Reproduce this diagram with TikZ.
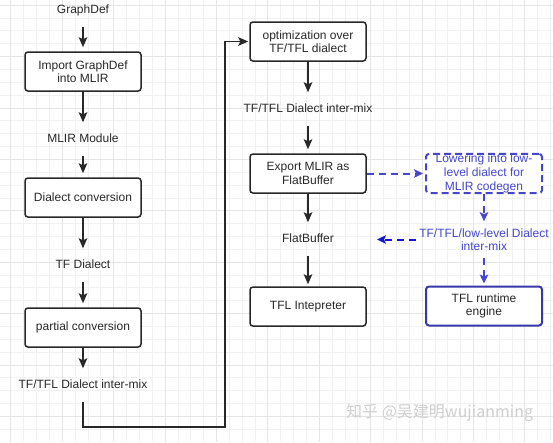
\documentclass[tikz,border=0pt]{standalone}
\usepackage{fontspec}
\setmainfont{Liberation Sans}
\newfontfamily\cjkfont{Noto Sans CJK SC}
\usepackage{xcolor}
\usepackage{tikz}
\usetikzlibrary{arrows.meta,positioning,calc}

\definecolor{inkgray}{RGB}{40,40,40}
\definecolor{lowblue}{RGB}{70,70,205}
\definecolor{deepblue}{RGB}{20,20,210}
\definecolor{engblue}{RGB}{55,55,170}
\definecolor{gridminor}{RGB}{241,241,241}
\definecolor{gridmajor}{RGB}{229,229,229}

\begin{document}
\begin{tikzpicture}[x=1pt, y=-1pt,
    every node/.style={font=\fontsize{12}{13.5}\selectfont, text=inkgray},
    box/.style={draw=inkgray, line width=1.5pt, rounded corners=3pt, minimum width=116pt, minimum height=39pt, inner sep=0pt, align=center, fill=white},
    lbl/.style={inner xsep=3pt, inner ysep=11pt, text height=8.5pt, text depth=2.5pt},
    arr/.style={draw=inkgray, line width=1.8pt, -{Stealth[length=10pt,width=8.5pt,inset=2pt]}},
    dasharr/.style={line width=2pt, dash pattern=on 7pt off 5pt, -{Stealth[length=9pt,width=8.5pt,inset=2pt]}}]
    \useasboundingbox (0,0) rectangle (553,442);
    \fill[white] (0,0) rectangle (553,442);

    % Background grid
    \foreach \i in {0,...,42}
        \draw[gridminor, line width=0.5pt] ({10.7+12.85*\i},0) -- ({10.7+12.85*\i},442);
    \foreach \i in {0,...,33}
        \draw[gridminor, line width=0.5pt] (0,{5+12.85*\i}) -- (553,{5+12.85*\i});
    \foreach \i in {0,4,...,40}
        \draw[gridmajor, line width=0.6pt] ({10.7+12.85*\i},0) -- ({10.7+12.85*\i},442);
    \foreach \i in {0,4,...,32}
        \draw[gridmajor, line width=0.6pt] (0,{5+12.85*\i}) -- (553,{5+12.85*\i});

    % Left column
    \node[lbl] (gd) at (83,10) {GraphDef};
    \node[box] (imp) at (83,71.5) {Import GraphDef\\into MLIR};
    \node[lbl] (mod) at (83,139) {MLIR Module};
    \node[box] (conv) at (83,197.5) {Dialect conversion};
    \node[lbl] (tfd) at (83,265) {TF Dialect};
    \node[box] (part) at (83,327.5) {partial conversion};
    \node[lbl] (mix1) at (83,385) {TF/TFL Dialect inter-mix};

    \draw[arr, shorten >=4pt] (gd) -- (imp);
    \draw[arr] (imp) -- (mod);
    \draw[arr, shorten >=4pt] (mod) -- (conv);
    \draw[arr] (conv) -- (tfd);
    \draw[arr, shorten >=4pt] (tfd) -- (part);
    \draw[arr] (part) -- (mix1);

    % Middle column
    \node[box] (opt) at (308,41.5) {optimization over\\TF/TFL dialect};
    \node[lbl] (mix2) at (308,109) {TF/TFL Dialect inter-mix};
    \node[box] (exp) at (308,173.5) {Export MLIR as\\FlatBuffer};
    \node[lbl] (fb) at (308,239) {FlatBuffer};
    \node[box] (interp) at (308,306.5) {TFL Intepreter};

    \draw[arr] (opt) -- (mix2);
    \draw[arr, shorten >=4pt] (mix2) -- (exp);
    \draw[arr] (exp) -- (fb);
    \draw[arr, shorten >=2pt] (fb) -- (interp);

    % Loop to the middle column
    \coordinate (loopcorner) at (225,427);
    \draw[arr, shorten >=1pt] (mix1) |- (loopcorner) |- (opt.west);

    % Right column
    \node[box, draw=lowblue, line width=2pt, dash pattern=on 7pt off 4pt, text=lowblue, font=\fontsize{12}{14}\selectfont] (lower) at (484,173.5) {Lowering into low-\\level dialect for\\MLIR codegen};
    \node[align=center, inner xsep=3pt, inner ysep=7pt, text=lowblue] (lowmix) at (484,239.5) {TF/TFL/low-level Dialect\\inter-mix};
    \node[box, draw=engblue, line width=2pt] (engine) at (484,306) {TFL runtime\\engine};
    \coordinate (fbtip) at (377,239.5);

    \draw[dasharr, lowblue, shorten >=2pt] (exp) -- (lower);
    \draw[dasharr, lowblue] (lower) -- (lowmix);
    \draw[dasharr, lowblue, shorten >=2pt] (lowmix) -- (engine);
    \draw[dasharr, deepblue] (lowmix.west) -- (fbtip);

    % Watermark
    \node[anchor=west, inner sep=0pt, text=gray!38, font=\cjkfont\fontsize{16}{16}\selectfont] (wm) at (346,413) {知乎 @吴建明wujianming};
\end{tikzpicture}
\end{document}
